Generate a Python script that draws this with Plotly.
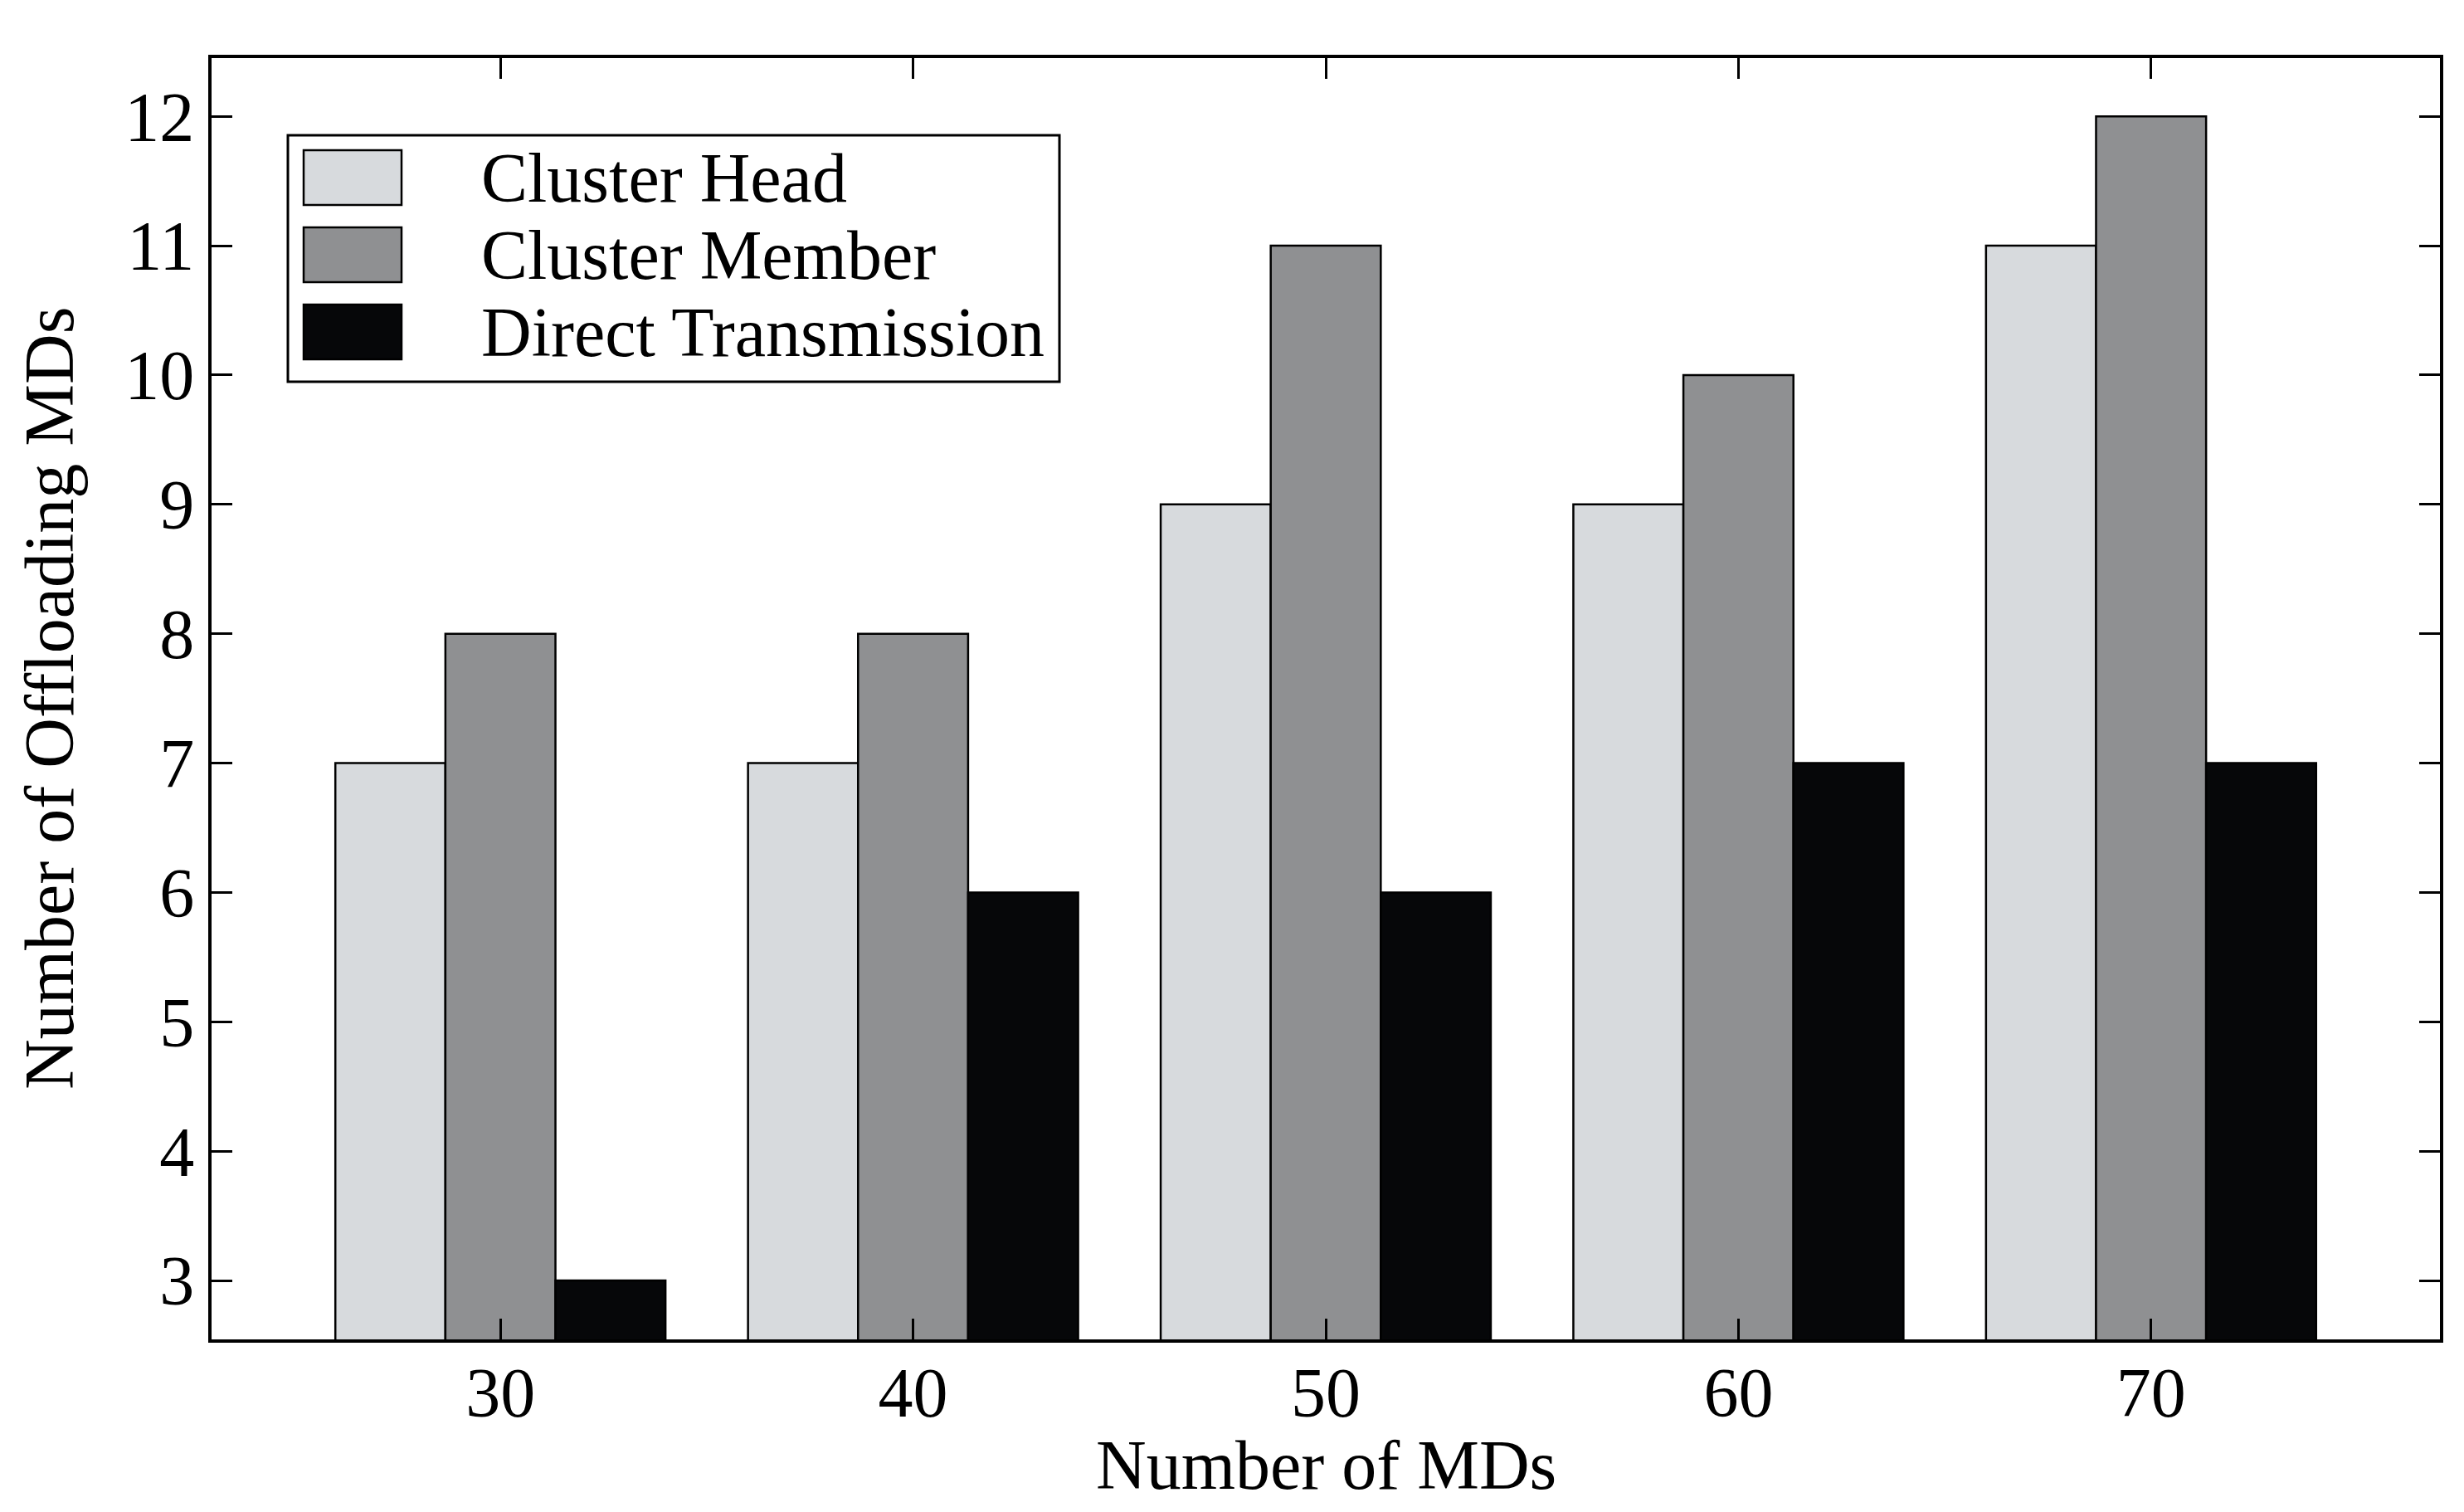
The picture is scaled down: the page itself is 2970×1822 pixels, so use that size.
import plotly.graph_objects as go

num_mds = [30, 40, 50, 60, 70]
cluster_head = [7, 7, 9, 9, 11]
cluster_member = [8, 8, 11, 10, 12]
direct_tx = [3, 6, 6, 7, 7]

series_names = ["Cluster Head", "Cluster Member", "Direct Transmission"]
series_colors = ["#d7dadd", "#8f9092", "#060709"]

W, H = 2970, 1822
L, R, T, B = 247, 2933, 62, 1606
FONT = "Liberation Serif"
TXT = dict(family=FONT, size=84, color="#000000")


def px(x, y):
    # page pixel -> paper coords of the plot area
    return (x - L) / (R - L), (B - y) / (B - T)


fig = go.Figure()
for name, vals, col in zip(series_names, [cluster_head, cluster_member, direct_tx], series_colors):
    fig.add_trace(go.Bar(
        x=num_mds, y=vals, name=name,
        marker=dict(color=col, line=dict(color="#000000", width=2.5)),
        showlegend=False,
    ))

# hand-drawn legend box (plotly bar swatches are too small)
shapes = []
annotations = []
x0, y1 = px(339, 155)
x1, y0 = px(1269, 452)
shapes.append(dict(type="rect", xref="paper", yref="paper", x0=x0, y0=y0, x1=x1, y1=y1,
                   line=dict(color="#000000", width=3), fillcolor="white", layer="above"))
for i, (name, col) in enumerate(zip(series_names, series_colors)):
    top = 173 + 93 * i
    sx0, sy1 = px(358, top)
    sx1, sy0 = px(476, top + 66)
    shapes.append(dict(type="rect", xref="paper", yref="paper", x0=sx0, y0=sy0, x1=sx1, y1=sy1,
                       line=dict(color="#000000", width=2.5), fillcolor=col, layer="above"))
    tx, ty = px(570, top + 33)
    annotations.append(dict(text=name, xref="paper", yref="paper", x=tx, y=ty,
                            xanchor="left", yanchor="middle", showarrow=False, font=TXT))

# axis titles as annotations so they sit where the reference has them
annotations.append(dict(text="Number of MDs", xref="paper", yref="paper",
                        x=0.5, y=px(0, 1758)[1], xanchor="center", yanchor="middle",
                        showarrow=False, font=TXT))
annotations.append(dict(text="Number of Offloading MDs", xref="paper", yref="paper",
                        x=px(51, 0)[0], y=0.5, xanchor="center", yanchor="middle",
                        textangle=-90, showarrow=False, font=TXT))

fig.update_layout(
    width=W, height=H,
    margin=dict(l=L, r=W - R, t=T, b=H - B, autoexpand=False),
    paper_bgcolor="white", plot_bgcolor="white",
    barmode="group", bargap=0.2, bargroupgap=0,
    font=TXT,
    shapes=shapes, annotations=annotations,
)
fig.update_xaxes(
    range=[23, 77], tickvals=num_mds, ticks="inside", ticklen=25, tickwidth=3,
    tickcolor="#000000", showline=True, linecolor="#000000", linewidth=4,
    mirror="ticks", showgrid=False, zeroline=False, tickfont=TXT,
    ticklabelstandoff=-12, automargin=False,
)
fig.update_yaxes(
    range=[2.545, 12.45], tick0=3, dtick=1, ticks="inside", ticklen=25, tickwidth=3,
    tickcolor="#000000", showline=True, linecolor="#000000", linewidth=4,
    mirror="ticks", showgrid=False, zeroline=False, tickfont=TXT,
    automargin=False,
)

fig.write_html("out.html")
